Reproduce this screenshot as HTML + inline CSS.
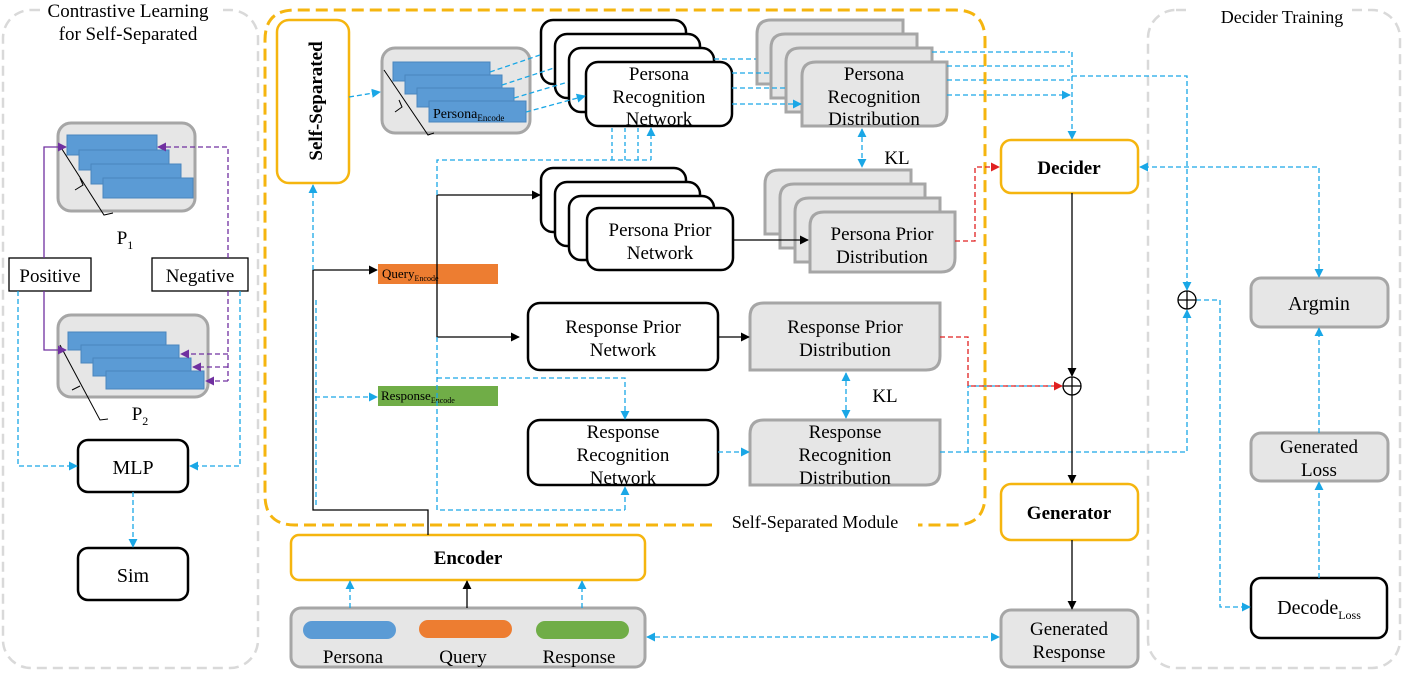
<!DOCTYPE html>
<html><head><meta charset="utf-8"><style>
html,body{margin:0;padding:0;background:#fff;}
svg{display:block;font-family:"Liberation Serif",serif;}
</style></head><body>
<svg width="1405" height="673" viewBox="0 0 1405 673" xmlns="http://www.w3.org/2000/svg">
<defs>
<marker id="ab" viewBox="0 0 10 10" refX="9" refY="5" markerWidth="7" markerHeight="7" orient="auto-start-reverse"><path d="M0,0 L10,5 L0,10 z" fill="#1aa7e6"/></marker>
<marker id="ak" viewBox="0 0 10 10" refX="9" refY="5" markerWidth="7" markerHeight="7" orient="auto-start-reverse"><path d="M0,0 L10,5 L0,10 z" fill="#000"/></marker>
<marker id="ap" viewBox="0 0 10 10" refX="9" refY="5" markerWidth="7" markerHeight="7" orient="auto-start-reverse"><path d="M0,0 L10,5 L0,10 z" fill="#7030a0"/></marker>
<marker id="ar" viewBox="0 0 10 10" refX="9" refY="5" markerWidth="7" markerHeight="7" orient="auto-start-reverse"><path d="M0,0 L10,5 L0,10 z" fill="#e02020"/></marker>
</defs>

<!-- panels -->
<rect x="3" y="10" width="255" height="658" rx="28" fill="none" stroke="#d9d9d9" stroke-width="2.5" stroke-dasharray="10,6"/>
<rect x="40" y="0" width="180" height="44" fill="#fff"/>
<text x="128" y="17" font-size="19" text-anchor="middle">Contrastive Learning</text>
<text x="128" y="40" font-size="19" text-anchor="middle">for Self-Separated</text>
<rect x="1148" y="10" width="252" height="658" rx="28" fill="none" stroke="#d9d9d9" stroke-width="2.5" stroke-dasharray="10,6"/>
<rect x="1190" y="0" width="160" height="26" fill="#fff"/>
<text x="1282" y="23" font-size="18" text-anchor="middle">Decider Training</text>

<!-- big yellow dashed module -->
<path d="M712,525 L295,525 Q265,525 265,495 L265,40 Q265,10 295,10 L955,10 Q985,10 985,40 L985,495 Q985,525 955,525 L918,525" fill="none" stroke="#f5b50f" stroke-width="3" stroke-dasharray="12,6"/>
<text x="815" y="528" font-size="18" text-anchor="middle">Self-Separated Module</text>

<!-- left panel content -->
<rect x="58" y="123" width="137" height="88" rx="13" fill="#e6e6e6" stroke="#a6a6a6" stroke-width="3"/>
<g fill="#5b9bd5" stroke="#4a86bd" stroke-width="1">
<rect x="67" y="135" width="90" height="20"/>
<rect x="79" y="150" width="90" height="20"/>
<rect x="91" y="164" width="90" height="20"/>
<rect x="103" y="178" width="90" height="20"/>
</g>
<path d="M60,146 L104,215 L113,213 M75,190 L83,185 L80,178" fill="none" stroke="#000" stroke-width="1"/>
<text x="125" y="244" font-size="19" text-anchor="middle">P<tspan font-size="12" dy="5">1</tspan></text>

<rect x="58" y="315" width="150" height="82" rx="13" fill="#e6e6e6" stroke="#a6a6a6" stroke-width="3"/>
<g fill="#5b9bd5" stroke="#4a86bd" stroke-width="1">
<rect x="68" y="332" width="98" height="18"/>
<rect x="81" y="345" width="98" height="18"/>
<rect x="93" y="358" width="98" height="18"/>
<rect x="106" y="371" width="98" height="18"/>
</g>
<path d="M60,345 L100,420 L108,419 M72,390 L80,386" fill="none" stroke="#000" stroke-width="1"/>
<text x="140" y="420" font-size="19" text-anchor="middle">P<tspan font-size="12" dy="5">2</tspan></text>

<rect x="9" y="258" width="82" height="33" fill="#fff" stroke="#000" stroke-width="1.3"/>
<text x="50" y="282" font-size="19" text-anchor="middle">Positive</text>
<rect x="152" y="258" width="96" height="33" fill="#fff" stroke="#000" stroke-width="1.3"/>
<text x="200" y="282" font-size="19" text-anchor="middle">Negative</text>

<rect x="78" y="440" width="110" height="52" rx="10" fill="#fff" stroke="#000" stroke-width="2.5"/>
<text x="133" y="474" font-size="20" text-anchor="middle">MLP</text>
<rect x="78" y="548" width="110" height="52" rx="10" fill="#fff" stroke="#000" stroke-width="2.5"/>
<text x="133" y="582" font-size="20" text-anchor="middle">Sim</text>

<!-- Self-Separated -->
<rect x="277" y="20" width="72" height="163" rx="12" fill="#fff" stroke="#f5b50f" stroke-width="2.5"/>
<text transform="translate(322,101) rotate(-90)" font-size="19" font-weight="bold" text-anchor="middle">Self-Separated</text>

<!-- Persona encode box -->
<rect x="382" y="48" width="148" height="85" rx="13" fill="#e6e6e6" stroke="#a6a6a6" stroke-width="3"/>
<g fill="#5b9bd5" stroke="#4a86bd" stroke-width="1">
<rect x="393" y="62" width="97" height="19"/>
<rect x="405" y="75" width="97" height="19"/>
<rect x="417" y="88" width="97" height="19"/>
<rect x="429" y="101" width="97" height="21"/>
</g>
<text x="433" y="118" font-size="14">Persona<tspan font-size="9" dy="3">Encode</tspan></text>
<path d="M384,70 L428,135 L434,133 M395,112 L402,107 L399,100" fill="none" stroke="#000" stroke-width="1"/>

<!-- Persona Recognition Network stack -->
<g fill="#fff" stroke="#000" stroke-width="2.5">
<rect x="541" y="20" width="145" height="64" rx="12"/>
<rect x="555" y="34" width="145" height="64" rx="12"/>
<rect x="569" y="48" width="145" height="64" rx="12"/>
<rect x="586" y="62" width="146" height="64" rx="12"/>
</g>
<text x="659" y="80" font-size="19" text-anchor="middle">Persona</text>
<text x="659" y="103" font-size="19" text-anchor="middle">Recognition</text>
<text x="659" y="125" font-size="19" text-anchor="middle">Network</text>

<g fill="#e6e6e6" stroke="#a6a6a6" stroke-width="3">
<path d="M757,34 Q757,20 771,20 L903,20 L903,84 L757,84 Z"/>
<path d="M771,48 Q771,34 785,34 L917,34 L917,98 L771,98 Z"/>
<path d="M786,62 Q786,48 800,48 L932,48 L932,112 L786,112 Z"/>
<path d="M802,76 Q802,62 816,62 L947,62 L947,112 Q947,126 933,126 L802,126 Z"/>
</g>
<text x="874" y="80" font-size="19" text-anchor="middle">Persona</text>
<text x="874" y="103" font-size="19" text-anchor="middle">Recognition</text>
<text x="874" y="125" font-size="19" text-anchor="middle">Distribution</text>

<!-- Persona Prior Network stack -->
<g fill="#fff" stroke="#000" stroke-width="2.5">
<rect x="541" y="168" width="145" height="64" rx="12"/>
<rect x="555" y="182" width="145" height="64" rx="12"/>
<rect x="569" y="196" width="145" height="64" rx="12"/>
<rect x="587" y="208" width="146" height="62" rx="12"/>
</g>
<text x="660" y="236" font-size="19" text-anchor="middle">Persona Prior</text>
<text x="660" y="259" font-size="19" text-anchor="middle">Network</text>

<g fill="#e6e6e6" stroke="#a6a6a6" stroke-width="3">
<path d="M765,184 Q765,170 779,170 L911,170 L911,234 L765,234 Z"/>
<path d="M780,198 Q780,184 794,184 L925,184 L925,248 L780,248 Z"/>
<path d="M795,212 Q795,198 809,198 L940,198 L940,262 L795,262 Z"/>
<path d="M810,226 Q810,212 824,212 L955,212 L955,258 Q955,272 941,272 L810,272 Z"/>
</g>
<text x="882" y="240" font-size="19" text-anchor="middle">Persona Prior</text>
<text x="882" y="263" font-size="19" text-anchor="middle">Distribution</text>

<text x="897" y="164" font-size="19" text-anchor="middle">KL</text>
<text x="885" y="402" font-size="19" text-anchor="middle">KL</text>

<rect x="378" y="264" width="120" height="20" fill="#ed7d31"/>
<text x="382" y="278" font-size="13">Query<tspan font-size="8" dy="3">Encode</tspan></text>
<rect x="378" y="386" width="120" height="20" fill="#70ad47"/>
<text x="381" y="400" font-size="13">Response<tspan font-size="8" dy="3">Encode</tspan></text>

<rect x="528" y="303" width="190" height="67" rx="12" fill="#fff" stroke="#000" stroke-width="2.5"/>
<text x="623" y="333" font-size="19" text-anchor="middle">Response Prior</text>
<text x="623" y="356" font-size="19" text-anchor="middle">Network</text>
<path d="M750,317 Q750,303 764,303 L940,303 L940,356 Q940,370 926,370 L750,370 Z" fill="#e6e6e6" stroke="#a6a6a6" stroke-width="3"/>
<text x="845" y="333" font-size="19" text-anchor="middle">Response Prior</text>
<text x="845" y="356" font-size="19" text-anchor="middle">Distribution</text>

<rect x="528" y="420" width="190" height="65" rx="12" fill="#fff" stroke="#000" stroke-width="2.5"/>
<text x="623" y="438" font-size="19" text-anchor="middle">Response</text>
<text x="623" y="461" font-size="19" text-anchor="middle">Recognition</text>
<text x="623" y="484" font-size="19" text-anchor="middle">Network</text>
<path d="M750,434 Q750,420 764,420 L940,420 L940,471 Q940,485 926,485 L750,485 Z" fill="#e6e6e6" stroke="#a6a6a6" stroke-width="3"/>
<text x="845" y="438" font-size="19" text-anchor="middle">Response</text>
<text x="845" y="461" font-size="19" text-anchor="middle">Recognition</text>
<text x="845" y="484" font-size="19" text-anchor="middle">Distribution</text>

<!-- Decider / generator -->
<rect x="1001" y="140" width="137" height="53" rx="10" fill="#fff" stroke="#f5b50f" stroke-width="2.5"/>
<text x="1069" y="174" font-size="19" font-weight="bold" text-anchor="middle">Decider</text>
<rect x="1001" y="484" width="137" height="56" rx="10" fill="#fff" stroke="#f5b50f" stroke-width="2.5"/>
<text x="1069" y="519" font-size="19" font-weight="bold" text-anchor="middle">Generator</text>
<rect x="1001" y="610" width="137" height="57" rx="10" fill="#e6e6e6" stroke="#a6a6a6" stroke-width="3"/>
<text x="1069" y="635" font-size="19" text-anchor="middle">Generated</text>
<text x="1069" y="658" font-size="19" text-anchor="middle">Response</text>

<rect x="1251" y="278" width="137" height="49" rx="10" fill="#e6e6e6" stroke="#a6a6a6" stroke-width="3"/>
<text x="1319" y="310" font-size="20" text-anchor="middle">Argmin</text>
<rect x="1251" y="433" width="137" height="48" rx="10" fill="#e6e6e6" stroke="#a6a6a6" stroke-width="3"/>
<text x="1319" y="453" font-size="19" text-anchor="middle">Generated</text>
<text x="1319" y="476" font-size="19" text-anchor="middle">Loss</text>
<rect x="1251" y="578" width="136" height="60" rx="10" fill="#fff" stroke="#000" stroke-width="2.5"/>
<text x="1319" y="614" font-size="20" text-anchor="middle">Decode<tspan font-size="12" dy="5">Loss</tspan></text>

<rect x="291" y="535" width="354" height="45" rx="8" fill="#fff" stroke="#f5b50f" stroke-width="2.5"/>
<text x="468" y="564" font-size="19" font-weight="bold" text-anchor="middle">Encoder</text>
<rect x="291" y="608" width="354" height="59" rx="10" fill="#e6e6e6" stroke="#a6a6a6" stroke-width="3"/>
<rect x="303" y="621" width="93" height="18" rx="9" fill="#5b9bd5"/>
<rect x="419" y="620" width="93" height="18" rx="9" fill="#ed7d31"/>
<rect x="536" y="621" width="93" height="18" rx="9" fill="#70ad47"/>
<text x="353" y="663" font-size="19" text-anchor="middle">Persona</text>
<text x="463" y="663" font-size="19" text-anchor="middle">Query</text>
<text x="579" y="663" font-size="19" text-anchor="middle">Response</text>

<!-- ===== connectors ===== -->
<g fill="none" stroke-width="1.3">
<!-- left panel -->
<path d="M44,258 L44,147 L66,147" stroke="#7030a0" marker-end="url(#ap)"/>
<path d="M44,291 L44,350 L66,350" stroke="#7030a0" marker-end="url(#ap)"/>
<path d="M228,258 L228,147 L158,147" stroke="#7030a0" stroke-dasharray="5,3" marker-end="url(#ap)"/>
<path d="M228,291 L228,381" stroke="#7030a0" stroke-dasharray="5,3"/>
<path d="M228,354 L181,354" stroke="#7030a0" stroke-dasharray="5,3" marker-end="url(#ap)"/>
<path d="M228,367 L193,367" stroke="#7030a0" stroke-dasharray="5,3" marker-end="url(#ap)"/>
<path d="M228,381 L206,381" stroke="#7030a0" stroke-dasharray="5,3" marker-end="url(#ap)"/>
<path d="M18,291 L18,466 L77,466" stroke="#1aa7e6" stroke-dasharray="5,3" marker-end="url(#ab)"/>
<path d="M240,291 L240,466 L190,466" stroke="#1aa7e6" stroke-dasharray="5,3" marker-end="url(#ab)"/>
<path d="M133,492 L133,547" stroke="#1aa7e6" stroke-dasharray="5,3" marker-end="url(#ab)"/>

<!-- self-separated -> persona encode -->
<path d="M349,97 L380,92" stroke="#1aa7e6" stroke-dasharray="5,3" marker-end="url(#ab)"/>
<path d="M490,72 L540,55 M502,85 L554,68 M514,98 L568,82 M526,112 L585,96" stroke="#1aa7e6" stroke-dasharray="5,3" marker-end="url(#ab)"/>
<path d="M714,59 L756,59 M732,73 L770,73 M732,88 L785,88 M732,104 L801,104" stroke="#1aa7e6" stroke-dasharray="5,3" marker-end="url(#ab)"/>
<path d="M932,52 L1070,52 M947,66 L1070,66 M947,80 L1070,80 M947,95 L1070,95" stroke="#1aa7e6" stroke-dasharray="5,3" marker-end="url(#ab)"/>
<path d="M1072,52 L1072,139" stroke="#1aa7e6" stroke-dasharray="5,3" marker-end="url(#ab)"/>
<path d="M1072,76 L1187,76 L1187,290" stroke="#1aa7e6" stroke-dasharray="5,3" marker-end="url(#ab)"/>
<path d="M862,129 L862,167" stroke="#1aa7e6" stroke-dasharray="5,3" marker-start="url(#ab)" marker-end="url(#ab)"/>
<path d="M733,240 L808,240" stroke="#000" marker-end="url(#ak)"/>
<path d="M955,241 L975,241 L975,167 L999,167" stroke="#e02020" stroke-dasharray="5,3" marker-end="url(#ar)"/>

<!-- encoder routing -->
<path d="M428,535 L428,510 L313,510 L313,270 L377,270" stroke="#000" marker-end="url(#ak)"/>
<path d="M313,270 L313,185" stroke="#1aa7e6" stroke-dasharray="5,3" marker-end="url(#ab)"/>
<path d="M315,397 L377,397" stroke="#1aa7e6" stroke-dasharray="5,3" marker-end="url(#ab)"/>
<path d="M316,300 L316,508" stroke="#1aa7e6" stroke-dasharray="5,3"/>
<path d="M437,195 L437,337 L519,337" stroke="#000" marker-end="url(#ak)"/>
<path d="M437,195 L540,195" stroke="#000" marker-end="url(#ak)"/>
<path d="M437,195 L437,160 L651,160 M437,337 L437,510 L625,510" stroke="#1aa7e6" stroke-dasharray="5,3"/>
<path d="M612,160 L612,128 M625,160 L625,128 M638,160 L638,128 M651,160 L651,128" stroke="#1aa7e6" stroke-dasharray="4,3" marker-end="url(#ab)"/>
<path d="M625,510 L625,487" stroke="#1aa7e6" stroke-dasharray="5,3" marker-end="url(#ab)"/>
<path d="M437,378 L625,378 L625,419" stroke="#1aa7e6" stroke-dasharray="5,3" marker-end="url(#ab)"/>
<path d="M718,337 L749,337" stroke="#000" marker-end="url(#ak)"/>
<path d="M718,452 L749,452" stroke="#1aa7e6" stroke-dasharray="5,3" marker-end="url(#ab)"/>
<path d="M846,373 L846,418" stroke="#1aa7e6" stroke-dasharray="5,3" marker-start="url(#ab)" marker-end="url(#ab)"/>

<path d="M940,452 L1187,452 L1187,310" stroke="#1aa7e6" stroke-dasharray="5,3" marker-end="url(#ab)"/>
<path d="M968,452 L968,386 L1062,386" stroke="#1aa7e6" stroke-dasharray="5,3"/>
<path d="M940,337 L968,337 L968,386 L1062,386" stroke="#e02020" stroke-dasharray="5,3" marker-end="url(#ar)"/>

<path d="M1319,277 L1319,167 L1140,167" stroke="#1aa7e6" stroke-dasharray="5,3" marker-start="url(#ab)" marker-end="url(#ab)"/>
<path d="M1072,193 L1072,376" stroke="#000" marker-end="url(#ak)"/>
<path d="M1072,395 L1072,483" stroke="#000" marker-end="url(#ak)"/>
<path d="M1072,540 L1072,609" stroke="#000" marker-end="url(#ak)"/>

<path d="M1196,300 L1220,300 L1220,607 L1250,607" stroke="#1aa7e6" stroke-dasharray="5,3" marker-end="url(#ab)"/>
<path d="M1319,578 L1319,482" stroke="#1aa7e6" stroke-dasharray="5,3" marker-end="url(#ab)"/>
<path d="M1319,433 L1319,328" stroke="#1aa7e6" stroke-dasharray="5,3" marker-end="url(#ab)"/>

<path d="M350,608 L350,581" stroke="#1aa7e6" stroke-dasharray="5,3" marker-end="url(#ab)"/>
<path d="M467,608 L467,581" stroke="#000" marker-end="url(#ak)"/>
<path d="M582,608 L582,581" stroke="#1aa7e6" stroke-dasharray="5,3" marker-end="url(#ab)"/>
<path d="M647,637 L999,637" stroke="#1aa7e6" stroke-dasharray="5,3" marker-start="url(#ab)" marker-end="url(#ab)"/>
</g>

<circle cx="1072" cy="386" r="9" fill="#fff" stroke="#000" stroke-width="1.3"/>
<path d="M1063,386 L1081,386 M1072,377 L1072,395" stroke="#000" stroke-width="1.3"/>
<circle cx="1187" cy="300" r="9" fill="#fff" stroke="#000" stroke-width="1.3"/>
<path d="M1178,300 L1196,300 M1187,291 L1187,309" stroke="#000" stroke-width="1.3"/>
</svg>
</body></html>
